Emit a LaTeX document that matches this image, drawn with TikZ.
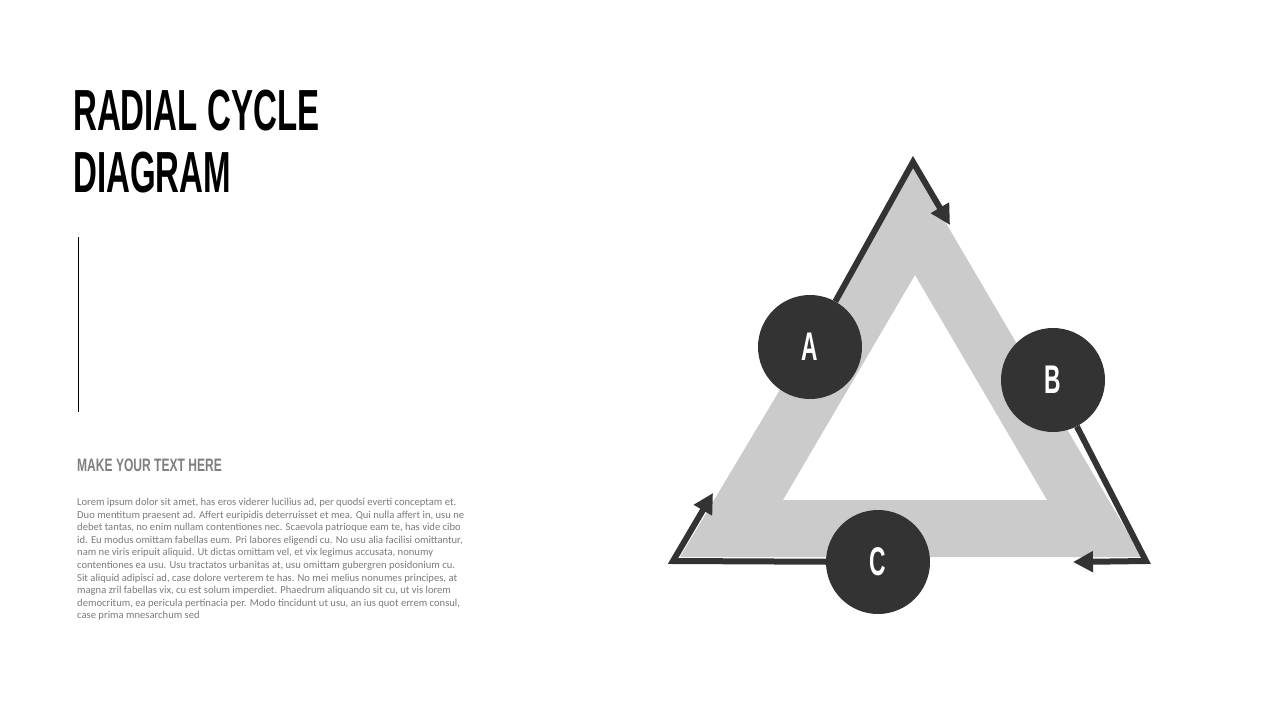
\documentclass[tikz,border=0pt]{standalone}
\usepackage{graphicx}
\usepackage{fontspec}
\setmainfont{Liberation Sans}
\newfontfamily\bodyfont{Carlito}
\usepackage{tikz}
\usetikzlibrary{arrows.meta}
\definecolor{darkc}{HTML}{333333}
\definecolor{bandc}{HTML}{CBCBCB}
\definecolor{headc}{HTML}{7F7F7F}
\definecolor{bodyc}{HTML}{7A7A7A}
\newcommand{\cond}[1]{\scalebox{0.57}[1]{#1}}
\newcommand{\stepnode}[3]{\node[stepcircle] (#1) at (#2) {\cond{#3}};}

\begin{document}
\begin{tikzpicture}[x=1pt, y=-1pt,
    stepcircle/.style={circle, fill=darkc, minimum size=104pt, inner sep=0pt,
        text=white, font=\fontsize{40}{40}\selectfont\bfseries},
    cycleline/.style={draw=darkc, line width=6pt, line join=miter,
        -{Triangle[length=20pt,width=20pt]}}]
    \useasboundingbox (0,0) rectangle (1280,720);
    % title
    \node[anchor=base west, inner sep=0pt, font=\fontsize{58}{58}\selectfont\bfseries] (title1) at (73,130) {\cond{RADIAL CYCLE}};
    \node[anchor=base west, inner sep=0pt, font=\fontsize{58}{58}\selectfont\bfseries] (title2) at (73,192) {\cond{DIAGRAM}};
    \draw[line width=1pt] (78,237) -- (78,412);
    % text
    \node[anchor=base west, inner sep=0pt, text=headc, font=\fontsize{18}{18}\selectfont\bfseries] (head) at (77,471) {\scalebox{0.67}[1]{MAKE YOUR TEXT HERE}};
    \node[anchor=north west, inner sep=0pt, align=left, text=bodyc, font=\bodyfont\fontsize{10.6}{12.6}\selectfont] (body) at (77,498) {%
        Lorem ipsum dolor sit amet, has eros viderer lucilius ad, per quodsi everti conceptam et.\\
        Duo mentitum praesent ad. Affert euripidis deterruisset et mea. Qui nulla affert in, usu ne\\
        debet tantas, no enim nullam contentiones nec. Scaevola patrioque eam te, has vide cibo\\
        id. Eu modus omittam fabellas eum. Pri labores eligendi cu. No usu alia facilisi omittantur,\\
        nam ne viris eripuit aliquid. Ut dictas omittam vel, et vix legimus accusata, nonumy\\
        contentiones ea usu. Usu tractatos urbanitas at, usu omittam gubergren posidonium cu.\\
        Sit aliquid adipisci ad, case dolore verterem te has. No mei melius nonumes principes, at\\
        magna zril fabellas vix, cu est solum imperdiet. Phaedrum aliquando sit cu, ut vis lorem\\
        democritum, ea pericula pertinacia per. Modo tincidunt ut usu, an ius quot errem consul,\\
        case prima mnesarchum sed};
    % band
    \fill[bandc, even odd rule] (913,167) -- (680,557) -- (1142,557) -- cycle
        (915,275) -- (783,500) -- (1047,500) -- cycle;
    % corners
    \coordinate (top) at (913,162);
    \coordinate (bl) at (673,561);
    \coordinate (br) at (1146,561);
    \coordinate (tipab) at (950,225);
    \coordinate (tipbc) at (1073,562);
    \coordinate (tipca) at (713,493);
    % steps
    \stepnode{A}{810,347}{A}
    \stepnode{B}{1053,380}{B}
    \stepnode{C}{878,562}{C}
    % arrows
    \draw[cycleline] (A) -- (top) -- (tipab);
    \draw[cycleline] (B) -- (br) -- (tipbc);
    \draw[cycleline] (C) -- (bl) -- (tipca);
\end{tikzpicture}
\end{document}
